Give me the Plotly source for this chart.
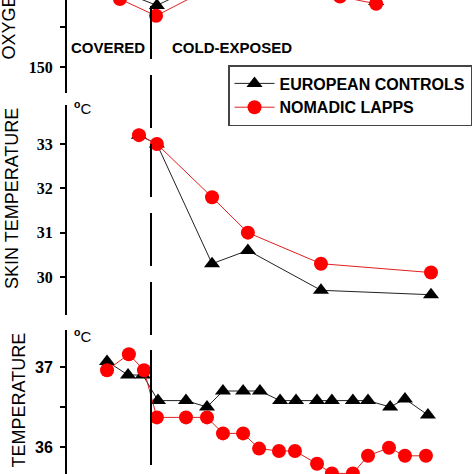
import plotly.graph_objects as go

# ---- data (time in minutes, 0 = start of cold exposure) ----
# top panel (oxygen, mostly cut off)
top_euro_t = [-11.1, 2.1, 21.8, 67.5, 80.4]
top_euro_v = [159.5, 157.7, 161.0, 160.0, 158.2]
top_lapp_t = [-11.1, 1.8, 21.8, 67.5, 80.4]
top_lapp_v = [158.5, 156.4, 160.0, 158.8, 157.9]

# middle panel: skin temperature
skin_t = [-4.3, 2.1, 21.8, 34.6, 60.7, 100.0]
skin_euro = [33.2, 33.0, 30.3, 30.6, 29.7, 29.6]
skin_lapp = [33.2, 33.0, 31.8, 31.0, 30.3, 30.1]

# bottom panel: rectal temperature
rect_euro_t = [-15.7, -8.2, -2.9, 2.5, 12.5, 20.0, 25.7, 32.9, 38.9, 46.1,
               51.8, 59.3, 64.6, 72.1, 77.5, 85.4, 90.7, 98.9]
rect_euro = [37.07, 36.9, 36.9, 36.58, 36.58, 36.5, 36.7, 36.7, 36.7, 36.58,
             36.58, 36.58, 36.58, 36.58, 36.58, 36.5, 36.6, 36.4]
rect_lapp_t = [-15.7, -7.9, -2.5, 2.1, 12.5, 20.0, 25.7, 32.9, 38.6, 45.7,
               51.4, 59.3, 64.6, 72.1, 77.5, 85.0, 90.7, 98.2]
rect_lapp = [36.96, 37.16, 36.96, 36.37, 36.37, 36.37, 36.17, 36.17, 35.98, 35.95,
             35.95, 35.79, 35.67, 35.67, 35.89, 35.99, 35.89, 35.89]

top_ticks = [150, 155]
top_ticktext = ["150", ""]
skin_ticks = [30, 31, 32, 33]
rect_ticks = [36, 36.5, 37]
rect_ticktext = ["36", "", "37"]

W = H = 474
PX0 = 151.0   # pixel of t = 0
SC = 2.8      # pixels per minute

def py(p):
    return 1 - p / H

BLACK_LINE = "#222222"
RED = "#ff0000"
RED_LINE = "#e02020"

fig = go.Figure()

def add_pair(te, ve, tl, vl, yaxis, show):
    fig.add_trace(go.Scatter(
        x=te, y=ve, xaxis="x", yaxis=yaxis, mode="lines+markers",
        name="EUROPEAN CONTROLS", legendgroup="e", showlegend=show,
        line=dict(color=BLACK_LINE, width=1),
        marker=dict(symbol="triangle-up", size=14, color="black", line=dict(width=0))))
    fig.add_trace(go.Scatter(
        x=tl, y=vl, xaxis="x", yaxis=yaxis, mode="lines+markers",
        name="NOMADIC LAPPS", legendgroup="l", showlegend=show,
        line=dict(color=RED_LINE, width=1),
        marker=dict(symbol="circle", size=14, color=RED, line=dict(width=0))))

add_pair(top_euro_t, top_euro_v, top_lapp_t, top_lapp_v, "y", True)
add_pair(skin_t, skin_euro, skin_t, skin_lapp, "y2", False)
add_pair(rect_euro_t, rect_euro, rect_lapp_t, rect_lapp, "y3", False)

axpos = 66 / W
common = dict(anchor="free", position=axpos, showline=True, linecolor="black",
              linewidth=2, ticks="outside", ticklen=5, tickwidth=1.5,
              tickcolor="black", showgrid=False, zeroline=False,
              ticklabelstandoff=4)

serif = dict(family="Liberation Serif, Times New Roman, serif", size=16, color="black",
             weight="bold")
sans = dict(family="Liberation Sans, Arial, sans-serif", size=16, color="black",
            weight="bold")

fig.update_layout(
    width=W, height=H,
    margin=dict(l=0, r=0, t=0, b=0),
    paper_bgcolor="white", plot_bgcolor="white",
    xaxis=dict(domain=[0, 1], range=[-PX0 / SC, (W - PX0) / SC], visible=False),
    yaxis=dict(domain=[py(93), 1], range=[150 - (93 - 67) / 8, 150 + 67 / 8],
               tickvals=top_ticks, ticktext=top_ticktext, tickfont=serif, **common),
    yaxis2=dict(domain=[py(315), py(105)],
                range=[33 - (315 - 144) / 44.33, 33 + (144 - 105) / 44.33],
                tickvals=skin_ticks, tickfont=serif, **common),
    yaxis3=dict(domain=[0, py(330)], range=[37 - (474 - 367) / 80, 37 + (367 - 330) / 80],
                tickvals=rect_ticks, ticktext=rect_ticktext, tickfont=sans, **common),
    legend=dict(x=228 / W, y=py(65), xanchor="left", yanchor="top",
                bgcolor="white", bordercolor="#444444", borderwidth=1.5,
                font=dict(family="Liberation Sans, Arial, sans-serif", size=16,
                          color="black", weight="bold"),
                tracegroupgap=0, itemwidth=40),
    showlegend=True,
)

# vertical dashed line at onset of cold exposure
fig.add_shape(type="line", xref="x", yref="paper", x0=0, x1=0,
              y0=py(335), y1=py(6), line=dict(color="black", width=2, dash="53px,16px"))
fig.add_shape(type="line", xref="x", yref="paper", x0=0, x1=0,
              y0=py(465), y1=py(350), line=dict(color="black", width=2))

ann_font = dict(family="Liberation Sans, Arial, sans-serif", size=15, color="black", weight="bold")
fig.add_annotation(text="COVERED", xref="paper", yref="paper", x=69 / W, y=py(48),
                   xanchor="left", yanchor="middle", showarrow=False, font=ann_font)
fig.add_annotation(text="COLD-EXPOSED", xref="paper", yref="paper", x=170 / W, y=py(48),
                   xanchor="left", yanchor="middle", showarrow=False, font=ann_font)

title_font = dict(family="Liberation Sans, Arial, sans-serif", size=18, color="black")
fig.add_annotation(text="OXYGEN", xref="paper", yref="paper", x=9 / W, y=py(62),
                   xanchor="center", yanchor="bottom", textangle=-90, showarrow=False,
                   font=title_font)
fig.add_annotation(text="SKIN TEMPERATURE", xref="paper", yref="paper", x=12 / W, y=py(199),
                   xanchor="center", yanchor="middle", textangle=-90, showarrow=False,
                   font=title_font)
fig.add_annotation(text="TEMPERATURE", xref="paper", yref="paper", x=18 / W, y=py(331),
                   xanchor="center", yanchor="top", textangle=-90, showarrow=False,
                   font=title_font)

for ytop in (96, 324):
    fig.add_annotation(text="<b><sup>o</sup></b>C", xref="paper", yref="paper",
                       x=72 / W, y=py(ytop),
                       xanchor="left", yanchor="top", showarrow=False,
                       font=dict(family="Liberation Sans, Arial, sans-serif", size=15,
                                 color="black"))

fig.write_html("out.html")
